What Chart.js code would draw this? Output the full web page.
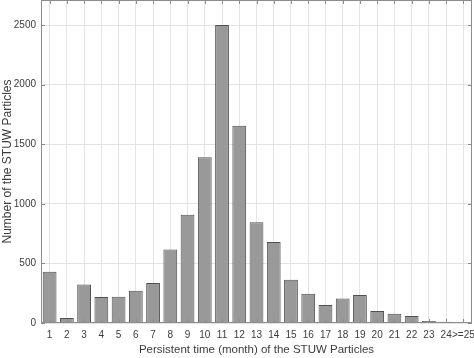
<!DOCTYPE html>
<html><head><meta charset="utf-8">
<script src="https://cdn.jsdelivr.net/npm/chart.js@4"></script>
<style>html,body{margin:0;padding:0;background:#fff;}#wrap{width:474px;height:358px;}</style>
</head><body><div id="wrap"><canvas id="c" width="474" height="358"></canvas></div>
<script>
const categories = ["1","2","3","4","5","6","7","8","9","10","11","12","13","14","15","16","17","18","19","20","21","22","23","24",">=25"];
const counts = [430,42,324,218,220,271,335,617,908,1391,2500,1654,846,679,363,246,151,206,235,100,78,58,17,11,5];
const yTicks = [0,500,1000,1500,2000,2500];
const xTitle = "Persistent time (month) of the STUW Particles";
const yTitle = "Number of the STUW Particles";

const axisColor = '#8c8c8c';
const textColor = '#3c3c3c';
const font = {family: "'Liberation Sans', Arial, sans-serif", size: 10};

const boxPlugin = {
  id: 'box',
  afterDatasetsDraw(chart) {
    const {ctx, chartArea: a, scales} = chart;
    ctx.save();
    ctx.strokeStyle = axisColor;
    ctx.lineWidth = 1;
    ctx.strokeRect(a.left + 0.5, a.top + 0.5, a.right - a.left - 1, a.bottom - a.top - 1);
    const tl = 4;
    ctx.beginPath();
    scales.x.ticks.forEach((t, i) => {
      const x = Math.round(scales.x.getPixelForTick(i)) + 0.5;
      ctx.moveTo(x, a.bottom); ctx.lineTo(x, a.bottom - tl);
      ctx.moveTo(x, a.top); ctx.lineTo(x, a.top + tl);
    });
    scales.y.ticks.forEach((t, i) => {
      const y = Math.round(scales.y.getPixelForTick(i)) + 0.5;
      ctx.moveTo(a.left, y); ctx.lineTo(a.left + tl, y);
      ctx.moveTo(a.right, y); ctx.lineTo(a.right - tl, y);
    });
    ctx.stroke();
    ctx.restore();
  }
};

new Chart(document.getElementById('c'), {
  type: 'bar',
  data: {
    labels: categories,
    datasets: [{
      data: counts,
      backgroundColor: '#999999',
      borderColor: '#505050',
      borderWidth: 1,
      categoryPercentage: 1.0,
      barPercentage: 0.8
    }]
  },
  plugins: [boxPlugin],
  options: {
    responsive: false,
    animation: false,
    layout: {padding: {top: 0, right: 2, left: 0, bottom: 0}},
    plugins: {legend: {display: false}, tooltip: {enabled: false}},
    scales: {
      x: {
        offset: true,
        grid: {offset: false, color: '#e3e3e3', drawTicks: false},
        border: {display: false},
        ticks: {color: textColor, font: font, padding: 6, maxRotation: 0, autoSkip: false},
        title: {display: true, text: xTitle, color: textColor, font: {family: font.family, size: 11.5}, padding: {top: 3, bottom: 1}},
        afterFit(s) { s.height = 35; s.paddingLeft = 0; s.paddingRight = 0; }
      },
      y: {
        min: 0, max: 2710,
        afterBuildTicks(s) { s.ticks = yTicks.map(v => ({value: v})); },
        grid: {color: '#e3e3e3', drawTicks: false},
        border: {display: false},
        ticks: {color: textColor, font: font, padding: 5, callback: v => String(v)},
        title: {display: true, text: yTitle, color: textColor, font: {family: font.family, size: 12}, padding: {top: 0, bottom: 1}},
        afterFit(s) { s.width = 41; s.paddingTop = 0; s.paddingBottom = 0; }
      }
    }
  }
});
</script></body></html>
